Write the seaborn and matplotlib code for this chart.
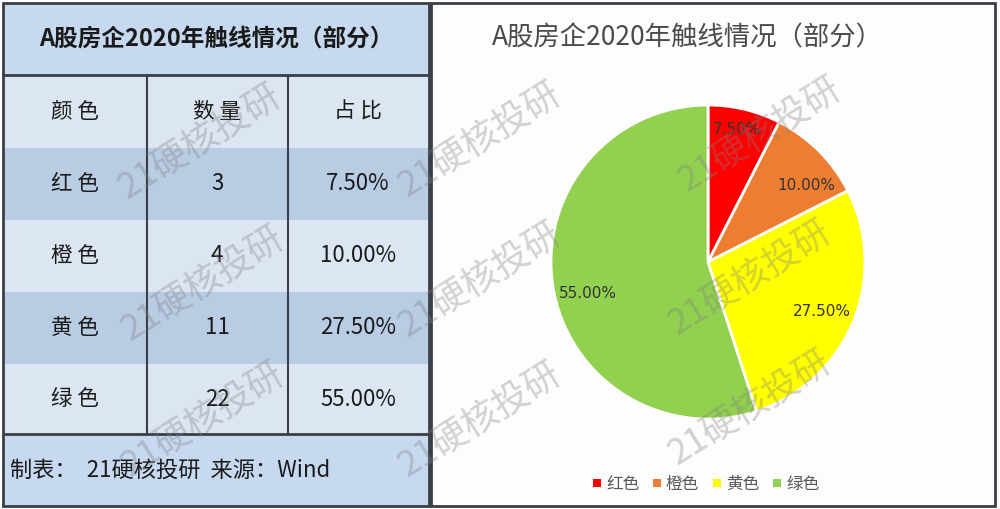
import matplotlib
matplotlib.use("Agg")
import matplotlib.pyplot as plt
import seaborn as sns
from matplotlib.patches import Rectangle

# ---- data ----
title = "A股房企2020年触线情况（部分）"
header = ["颜色", "数量", "占比"]
categories = ["红色", "橙色", "黄色", "绿色"]
counts = [3, 4, 11, 22]
shares = [7.50, 10.00, 27.50, 55.00]
footer = "制表：  21硬核投研  来源：Wind"
watermark = "21硬核投研"

sns.set_theme(style="white")
plt.rcParams['font.family'] = ['Noto Sans CJK SC', 'DejaVu Sans']

pie_colors = sns.color_palette(["#FF0000", "#ED7D31", "#FFFF00", "#92D050"])

W, H = 1000, 509
fig = plt.figure(figsize=(W / 100, H / 100), dpi=100)
fig.patch.set_facecolor("white")

# background axes in pixel coords
bg = fig.add_axes([0, 0, 1, 1])
bg.set_xlim(0, W)
bg.set_ylim(H, 0)
bg.axis("off")

dark_row = "#b8cce4"
light_row = "#dce6f2"
title_bg = "#c6d9f0"
line_c = "#3a3f47"
txt_c = "#1a1a1a"

# table geometry
tx0, tx1 = 3, 429
col_x = [3, 147, 288, 429]
col_center = [75, 217, 358]
row_y = [3, 75, 148, 220, 292, 364, 434, 506]

# title row
bg.add_patch(Rectangle((tx0, row_y[0]), tx1 - tx0, row_y[1] - row_y[0], fc=title_bg, ec="none"))
bg.text((tx0 + tx1) / 2, (row_y[0] + row_y[1]) / 2, title, ha="center", va="center",
        fontsize=17, fontweight="bold", color=txt_c)
# header
bg.add_patch(Rectangle((tx0, row_y[1]), tx1 - tx0, row_y[2] - row_y[1], fc=light_row, ec="none"))
for cx, h in zip(col_center, header):
    bg.text(cx, (row_y[1] + row_y[2]) / 2, " ".join(h), ha="center", va="center",
            fontsize=15.5, color=txt_c)
# data rows
for i, (cat, n, s) in enumerate(zip(categories, counts, shares)):
    y0, y1 = row_y[2 + i], row_y[3 + i]
    fc = dark_row if i % 2 == 0 else light_row
    bg.add_patch(Rectangle((tx0, y0), tx1 - tx0, y1 - y0, fc=fc, ec="none"))
    ym = (y0 + y1) / 2
    bg.text(col_center[0], ym, " ".join(cat), ha="center", va="center", fontsize=15.5, color=txt_c)
    bg.text(col_center[1], ym, f"{n}", ha="center", va="center", fontsize=16, color=txt_c)
    bg.text(col_center[2], ym, f"{s:.2f}%", ha="center", va="center", fontsize=16, color=txt_c)
# footer
bg.add_patch(Rectangle((tx0, row_y[6]), tx1 - tx0, row_y[7] - row_y[6], fc=title_bg, ec="none"))
bg.text(10, (row_y[6] + row_y[7]) / 2, footer, ha="left", va="center", fontsize=16, color=txt_c)

# table lines
for y in [row_y[1], row_y[6]]:
    bg.plot([tx0, tx1], [y, y], color=line_c, lw=2)
for x in col_x[1:3]:
    bg.plot([x, x], [row_y[1], row_y[6]], color=line_c, lw=1.5)
bg.add_patch(Rectangle((tx0, 3), tx1 - tx0, 503, fc="none", ec=line_c, lw=2))
# right panel
bg.add_patch(Rectangle((431, 3), 564, 503, fc="#fdfdfe", ec=line_c, lw=2, zorder=0))
bg.text(687, 38, title, ha="center", va="center", fontsize=19, color="#4a4a4a")

# pie
cx, cy, r = 708, 262, 157
pax = fig.add_axes([(cx - r) / W, (H - cy - r) / H, 2 * r / W, 2 * r / H])
wedges, texts = pax.pie(counts, colors=pie_colors, startangle=90, counterclock=False,
                        wedgeprops=dict(edgecolor="white", linewidth=2))
pax.set_xlim(-1, 1)
pax.set_ylim(-1, 1)
pax.set_aspect("auto")

# overlay for labels and watermarks
ov = fig.add_axes([0, 0, 1, 1])
ov.set_xlim(0, W)
ov.set_ylim(H, 0)
ov.axis("off")
ov.patch.set_alpha(0)

label_pos = [(737, 130), (806, 186), (822, 311), (588, 293)]
for (lx, ly), s in zip(label_pos, shares):
    ov.text(lx, ly, f"{s:.2f}%", ha="center", va="center", fontsize=11, color="#333333",
            family="DejaVu Sans")

# legend
leg_x = [597, 657, 717, 777]
for x, cat, c in zip(leg_x, categories, pie_colors):
    ov.add_patch(Rectangle((x - 4, 479), 8, 8, fc=c, ec="none"))
    ov.text(x + 9, 484, cat, ha="left", va="center", fontsize=12, color="#595959")

# watermarks
wm_pos = [(200, 142), (480, 140), (760, 135), (203, 284), (480, 280), (750, 278),
          (203, 420), (480, 420), (750, 408)]
for (x, y) in wm_pos:
    ov.text(x, y, watermark, ha="center", va="center", fontsize=26, color="#808080",
            alpha=0.35, rotation=32)

fig.savefig("out.png", dpi=100)
